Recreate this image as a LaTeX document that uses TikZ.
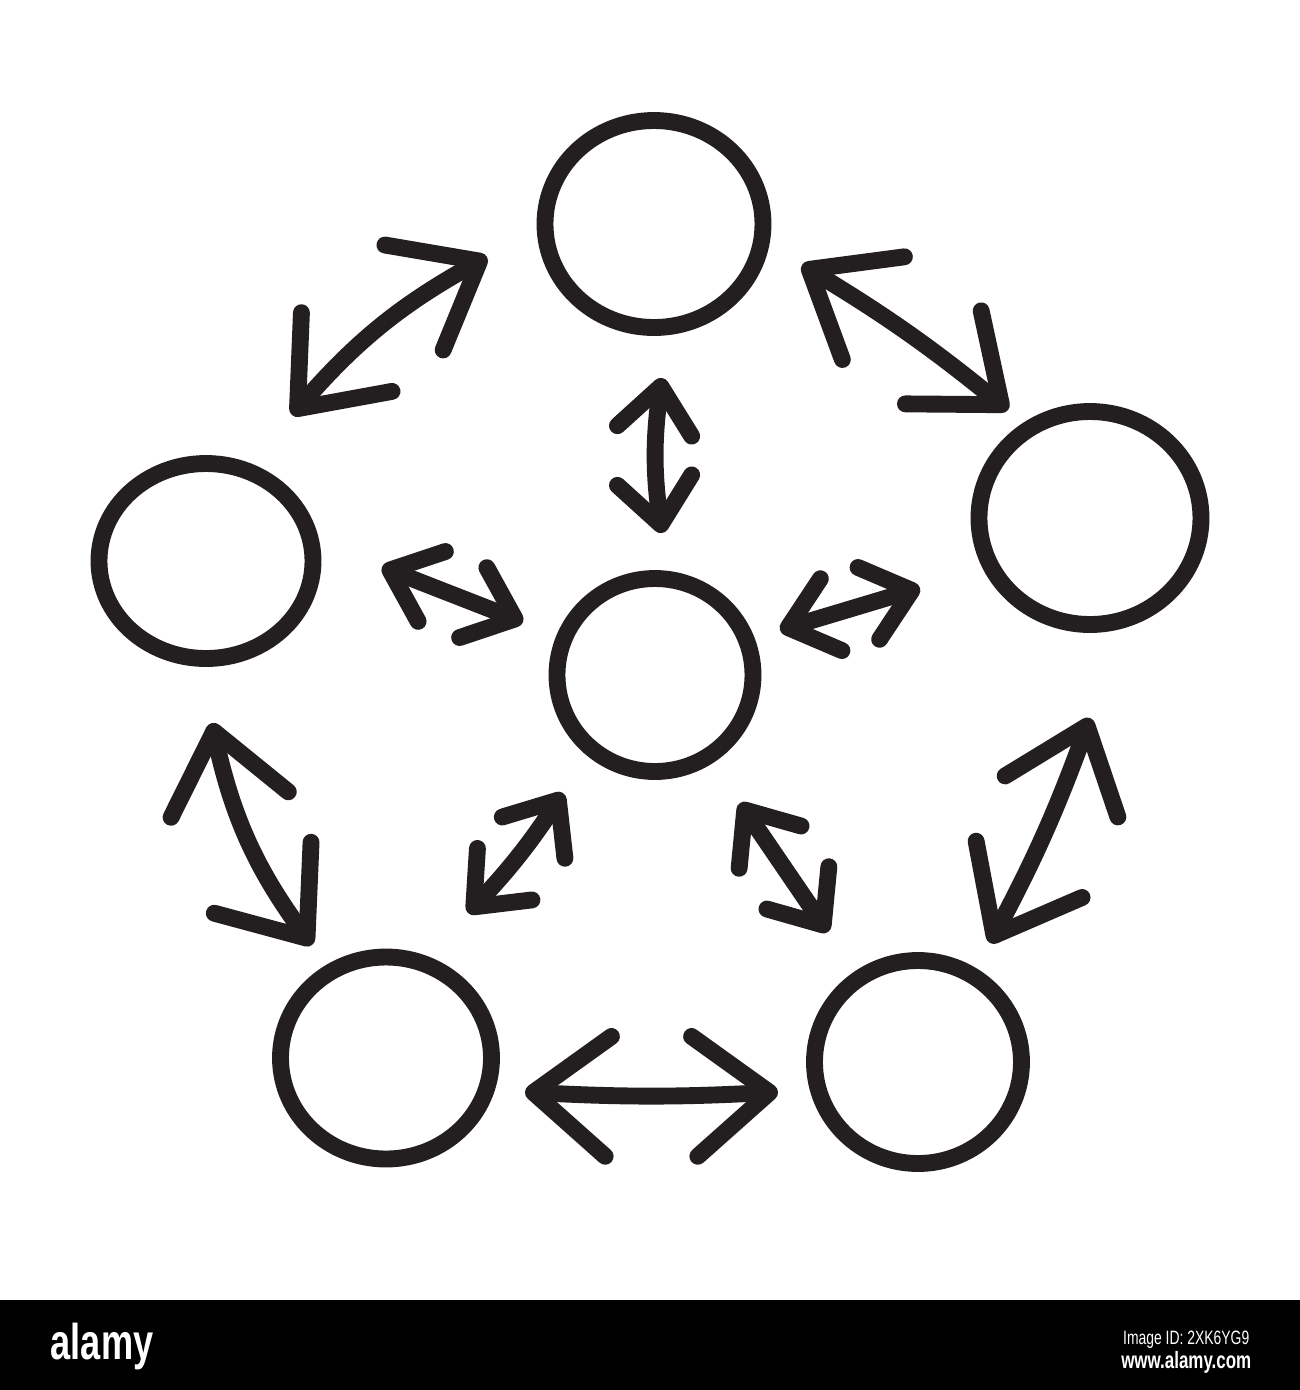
\documentclass[tikz,border=0pt]{standalone}
\usepackage{fontspec}
\newfontfamily\logofont[FakeStretch=0.72]{Liberation Sans}
\usepackage{tikz}
\usetikzlibrary{arrows.meta}
\usetikzlibrary{shapes.geometric}
\definecolor{ink}{HTML}{231F20}
\tikzset{
    blob/.style={shape=ellipse, draw=ink, line width=4.8pt, inner sep=0pt},
    outer arrow/.style={draw=ink, line width=4.8pt, line cap=round,
        {Straight Barb[round, length=7.5mm, width=12mm]}-{Straight Barb[round, length=7.5mm, width=12mm]}},
    inner arrow/.style={draw=ink, line width=4.8pt, line cap=round,
        {Straight Barb[round, length=4.5mm, width=7.5mm]}-{Straight Barb[round, length=4.5mm, width=7.5mm]}},
    banner text/.style={text=white, inner sep=0pt}}

\begin{document}
\begin{tikzpicture}

            \useasboundingbox (0,0) rectangle (13,-13.9);
            \fill[white] (0,0) rectangle (13,-13.9);

            % the six rings
            \node[blob, minimum width=2.18cm, minimum height=2.07cm] (top) at (6.54,-2.24) {};
            \node[blob, minimum width=2.14cm, minimum height=1.95cm] (left) at (2.06,-5.61) {};
            \node[blob, minimum width=2.22cm, minimum height=2.13cm] (right) at (10.90,-5.18) {};
            \node[blob, minimum width=1.96cm, minimum height=1.93cm] (mid) at (6.55,-6.75) {};
            \node[blob, minimum width=2.11cm, minimum height=2.02cm] (botleft) at (3.86,-10.58) {};
            \node[blob, minimum width=2.07cm, minimum height=2.03cm] (botright) at (9.18,-10.62) {};

            % arrow ends
            \coordinate (tl1) at (2.92,-4.15);
            \coordinate (tl2) at (4.87,-2.57);
            \coordinate (tr1) at (8.02,-2.65);
            \coordinate (tr2) at (10.08,-4.10);
            \coordinate (lb1) at (2.12,-7.23);
            \coordinate (lb2) at (3.12,-9.45);
            \coordinate (rb1) at (10.90,-7.18);
            \coordinate (rb2) at (9.90,-9.43);
            \coordinate (bb1) at (5.25,-10.92);
            \coordinate (bb2) at (7.78,-10.92);

            \coordinate (tv1) at (6.62,-3.78);
            \coordinate (tv2) at (6.62,-5.33);
            \coordinate (lc1) at (3.82,-5.67);
            \coordinate (lc2) at (5.23,-6.22);
            \coordinate (rc1) at (7.80,-6.30);
            \coordinate (rc2) at (9.20,-5.88);
            \coordinate (cl1) at (5.63,-7.93);
            \coordinate (cl2) at (4.68,-9.13);
            \coordinate (cr1) at (7.40,-8.03);
            \coordinate (cr2) at (8.28,-9.32);

            % ring to ring
            \draw[outer arrow] (tl1) to[bend left=10] (tl2);
            \draw[outer arrow] (tr1) to[bend left=4] (tr2);
            \draw[outer arrow] (lb1) to[bend right=12] (lb2);
            \draw[outer arrow] (rb1) to[bend left=4] (rb2);
            \draw[outer arrow] (bb1) to[bend right=3] (bb2);

            % centre to ring
            \draw[inner arrow] (tv1) to[bend right=8] (tv2);
            \draw[inner arrow] (lc1) -- (lc2);
            \draw[inner arrow] (rc1) -- (rc2);
            \draw[inner arrow] (cl1) to[bend left=5] (cl2);
            \draw[inner arrow] (cr1) -- (cr2);

            % banner
            \fill[black] (0,-13.0) rectangle (13,-13.9);
            \node[banner text, anchor=base west, font=\logofont\bfseries\fontsize{14.3}{15}\selectfont] (logo) at (0.50,-13.59) {alamy};
            \node[banner text, anchor=base east, font=\logofont\fontsize{5.5}{6}\selectfont] (imgid) at (12.50,-13.44) {Image ID: 2XK6YG9};
            \node[banner text, anchor=base east, font=\logofont\bfseries\fontsize{6.7}{7}\selectfont] (site) at (12.52,-13.68) {www.alamy.com};

        \end{tikzpicture}
\end{document}
